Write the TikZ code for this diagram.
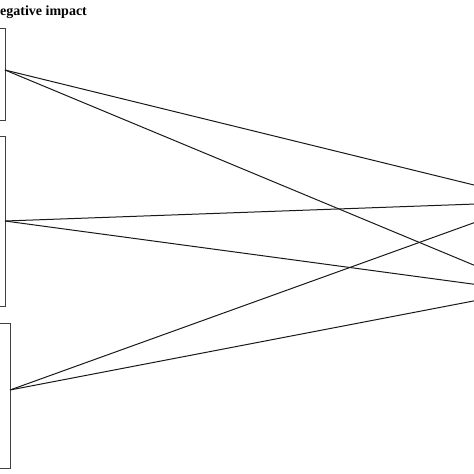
\documentclass[tikz,border=0pt]{standalone}
\usepackage{fontspec}
\setmainfont{Liberation Serif}
\begin{document}
\begin{tikzpicture}[x=1pt,y=-1pt,
  boxst/.style={draw=black!75,line width=0.8pt,inner sep=0pt},
  link/.style={draw=black!90,line width=1pt},
  ttl/.style={font=\fontsize{14}{16}\selectfont\bfseries,inner sep=0pt,anchor=base west}]
\useasboundingbox (0,0) rectangle (474,474);
\node[ttl] (title) at (0,15) {egative impact};
\node[boxst,minimum width=20pt,minimum height=92pt] (b1) at (-5,74) {};
\node[boxst,minimum width=20pt,minimum height=170pt] (b2) at (-5,221) {};
\node[boxst,minimum width=24pt,minimum height=145pt] (b3) at (-2,395.5) {};
\coordinate (s1) at (5,70);
\coordinate (s2) at (5,221);
\coordinate (s3) at (10,390);
\coordinate (r1) at (476,185.5);
\coordinate (r2) at (476,204);
\coordinate (r3) at (476,222);
\coordinate (r4) at (476,266);
\coordinate (r5) at (476,284.5);
\coordinate (r6) at (476,300.5);
\draw[link] (s1) -- (r1);
\draw[link] (s1) -- (r4);
\draw[link] (s2) -- (r2);
\draw[link] (s2) -- (r5);
\draw[link] (s3) -- (r3);
\draw[link] (s3) -- (r6);
\end{tikzpicture}
\end{document}
